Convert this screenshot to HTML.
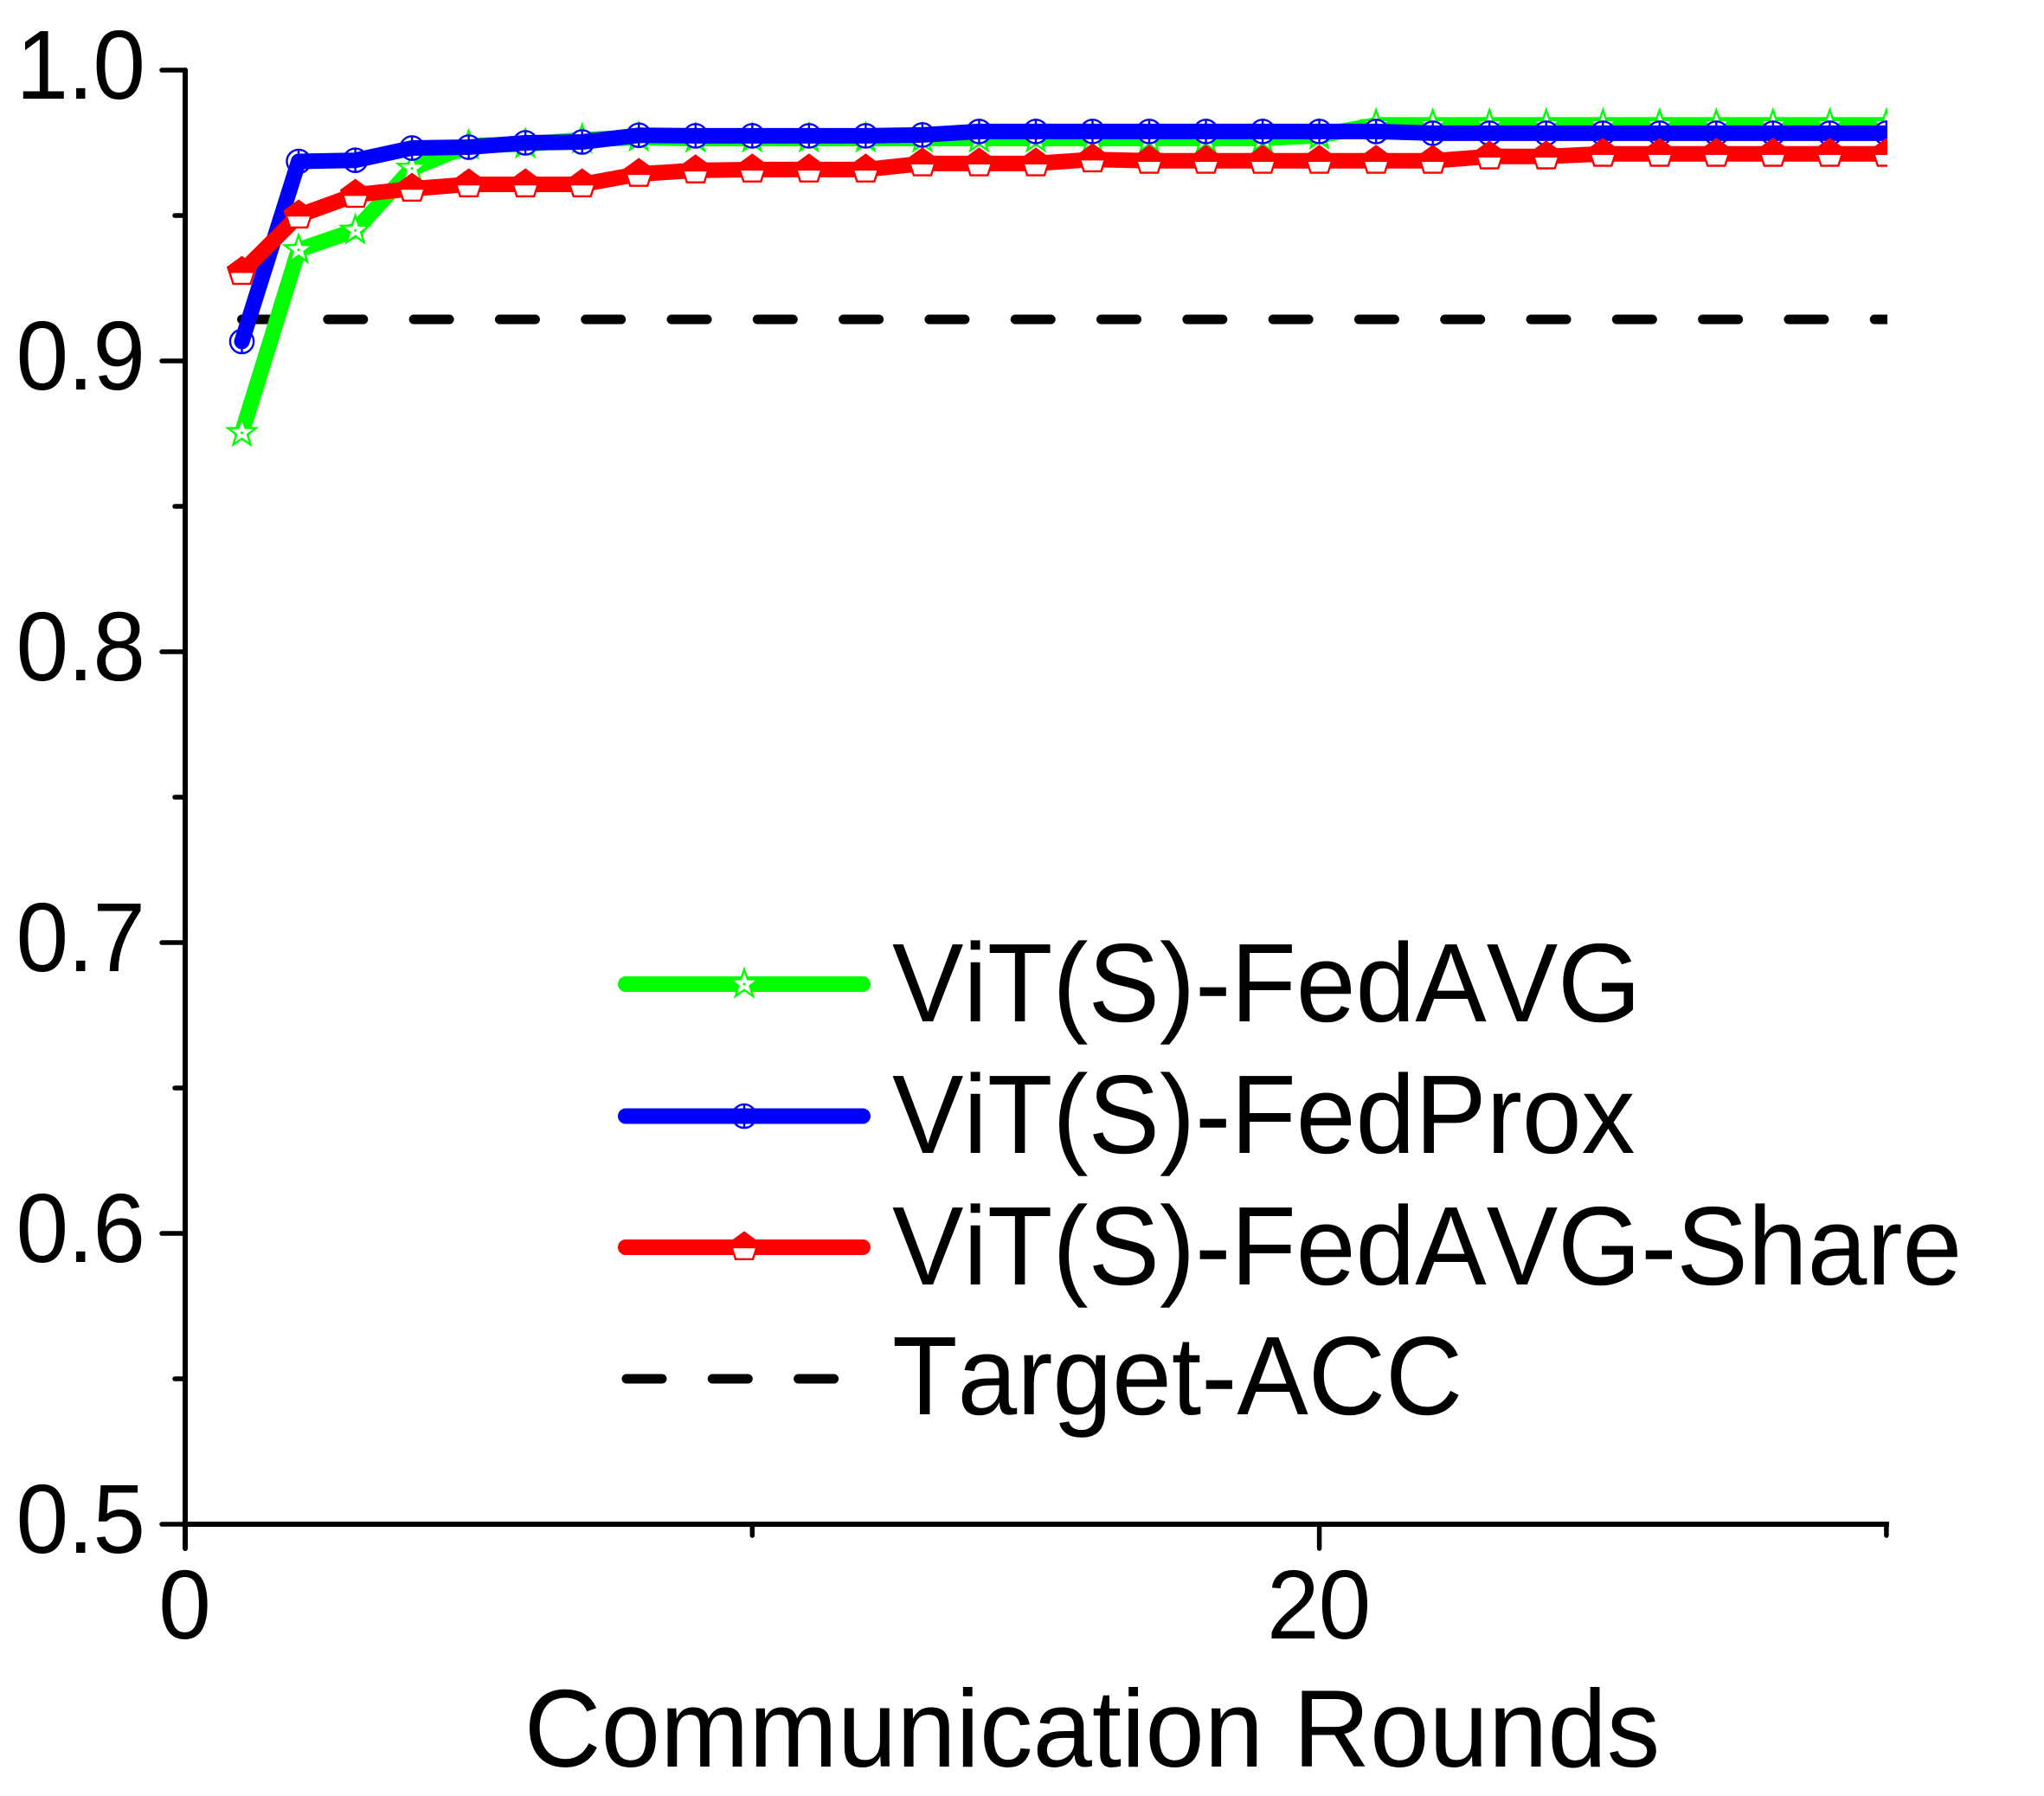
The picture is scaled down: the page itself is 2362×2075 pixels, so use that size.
<!DOCTYPE html>
<html lang="en">
<head>
<meta charset="utf-8">
<title>ViT(S) accuracy vs communication rounds</title>
<style>
html,body{margin:0;padding:0;background:#fff;width:2362px;height:2075px;overflow:hidden}
svg{display:block}
text{font-family:"Liberation Sans",Arial,sans-serif;fill:#000}
#legend text{font-kerning:none}
</style>
</head>
<body>
<svg id="chart" xmlns="http://www.w3.org/2000/svg" width="2362" height="2075" viewBox="0 0 2362 2075">
  <defs><clipPath id="plot-clip"><rect x="150" y="20" width="2031" height="1760"/></clipPath></defs>
  <rect x="0" y="0" width="2362" height="2075" fill="#fff"/>
  <g id="axes"></g>
  <g id="plot" clip-path="url(#plot-clip)"></g>
  <g id="legend"></g>
  <text transform="translate(1262 2041) scale(1 1.035)" font-size="123" text-anchor="middle">Communication Rounds</text>
</svg>
<script>
const rounds = [1,2,3,4,5,6,7,8,9,10,11,12,13,14,15,16,17,18,19,20,21,22,23,24,25,26,27,28,29,30];
const fedAvg = [.8753,.9382,.9449,.9662,.9741,.9745,.9761,.9768,.9765,.9765,.9765,.9765,.9765,.9765,.9765,.9765,.9765,.9765,.9765,.9775,.9812,.9812,.9812,.9812,.9812,.9812,.9812,.9812,.9812,.9812];
const fedProx = [.9067,.9686,.969,.9732,.9735,.975,.9753,.9776,.9774,.9774,.9774,.9774,.9777,.9789,.9789,.9789,.9789,.9789,.9789,.9789,.9789,.9783,.9783,.9783,.9783,.9783,.9783,.9783,.9783,.9783];
const fedAvgShare = [.9306,.95,.9571,.9592,.9607,.9607,.9607,.9643,.9655,.9658,.9658,.9658,.9679,.9679,.9679,.9693,.9688,.9688,.9688,.9688,.9688,.9688,.9703,.9703,.9712,.9712,.9712,.9712,.9712,.9712];
const targetAcc = .9143;
const yMajorTicks = [0.5,0.6,0.7,0.8,0.9,1.0];
const yMinorTicks = [0.55,0.65,0.75,0.85,0.95];
const xMajorTicks = [0,20];
const xMinorTicks = [10,30];
const legendLabels = ["ViT(S)-FedAVG","ViT(S)-FedProx","ViT(S)-FedAVG-Share","Target-ACC"];

const NS = "http://www.w3.org/2000/svg";
const xScale = v => 214 + v * 65.53;
const yScale = v => 81 + (1 - v) * 3360;
const axes = document.getElementById('axes');
const plot = document.getElementById('plot');
const legend = document.getElementById('legend');
const GREEN = '#00ff00', BLUE = '#0000ff', RED = '#ff0000';

function mk(tag, attrs, parent) {
  const el = document.createElementNS(NS, tag);
  for (const k in attrs) el.setAttribute(k, attrs[k]);
  parent.appendChild(el);
  return el;
}
function polyPts(cx, cy, radii, count) {
  const pts = [];
  for (let i = 0; i < count; i++) {
    const a = -Math.PI / 2 + i * 2 * Math.PI / count;
    const r = radii[i % radii.length];
    pts.push((cx + Math.cos(a) * r).toFixed(1) + ',' + (cy + Math.sin(a) * r).toFixed(1));
  }
  return pts.join(' ');
}
function drawStar(cx, cy, parent) {
  const el = mk('polygon', {points: polyPts(cx, cy, [17, 6.8], 10), fill: '#fff', stroke: GREEN, 'stroke-width': 2.4}, parent);
  
  
  const dot = mk('circle', {cx: cx, cy: cy, r: 1.5, fill: GREEN}, parent);
  
  
}
function drawCircle(cx, cy, parent) {
  const el = mk('circle', {cx: cx, cy: cy, r: 13.6, fill: '#fff', stroke: BLUE, 'stroke-width': 2.4}, parent);
  
  
  const cross = mk('line', {x1: cx, x2: cx, y1: cy - 14, y2: cy + 14, stroke: BLUE, 'stroke-width': 2.4}, parent);
  
  
}
function drawPentagon(cx, cy, parent) {
  const el = mk('polygon', {points: polyPts(cx, cy, [17], 5), fill: '#fff', stroke: RED, 'stroke-width': 2.4}, parent);
  
  
  const top = [cx + ',' + (cy - 17), (cx + 16.2) + ',' + (cy - 5.2), (cx + 14.4) + ',' + cy, (cx - 14.4) + ',' + cy, (cx - 16.2) + ',' + (cy - 5.2)].join(' ');
  const cap = mk('polygon', {points: top, fill: RED, stroke: RED, 'stroke-width': 2.4}, parent);
  
  
}
function linePath(values) {
  return values.map((v, i) => (i ? 'L' : 'M') + xScale(rounds[i]).toFixed(1) + ' ' + yScale(v).toFixed(1)).join(' ');
}
function drawLine(values, color, name) {
  const p = mk('path', {d: linePath(values), fill: 'none', stroke: color, 'stroke-width': 18, 'stroke-linejoin': 'round', 'stroke-linecap': 'round'}, plot);
  
  
}

/* axes */
const yAxis = mk('line', {x1: 214, x2: 214, y1: yScale(1), y2: 1789, stroke: '#000', 'stroke-width': 6, 'stroke-linecap': 'round'}, axes);


const xAxis = mk('line', {x1: 214, x2: xScale(30) + 3, y1: yScale(0.5), y2: yScale(0.5), stroke: '#000', 'stroke-width': 6}, axes);


yMajorTicks.forEach(v => {
  const t = mk('line', {x1: 187, x2: 214, y1: yScale(v), y2: yScale(v), stroke: '#000', 'stroke-width': 5.5, 'stroke-linecap': 'round'}, axes);
  
  
  const l = mk('text', {transform: 'translate(167 ' + (yScale(v) + 33) + ') scale(1 1.04)', 'font-size': 109, 'letter-spacing': -1, 'text-anchor': 'end'}, axes);
  l.textContent = v.toFixed(1);
  
  
});
yMinorTicks.forEach(v => {
  const t = mk('line', {x1: 202, x2: 214, y1: yScale(v), y2: yScale(v), stroke: '#000', 'stroke-width': 5.5, 'stroke-linecap': 'round'}, axes);
  
  
});
xMajorTicks.forEach(v => {
  const t = mk('line', {x1: xScale(v), x2: xScale(v), y1: yScale(0.5), y2: 1789, stroke: '#000', 'stroke-width': 5.5, 'stroke-linecap': 'round'}, axes);
  
  
  const l = mk('text', {transform: 'translate(' + (xScale(v) - 1) + ' 1893) scale(1 1.04)', 'font-size': 109, 'letter-spacing': -1, 'text-anchor': 'middle'}, axes);
  l.textContent = String(v);
  
  
});
xMinorTicks.forEach(v => {
  const t = mk('line', {x1: xScale(v), x2: xScale(v), y1: yScale(0.5), y2: 1774, stroke: '#000', 'stroke-width': 5.5, 'stroke-linecap': 'round'}, axes);
  
  
});

/* series, in the original stacking order */
const target = mk('line', {x1: xScale(1), x2: xScale(30), y1: yScale(targetAcc), y2: yScale(targetAcc), stroke: '#000', 'stroke-width': 11, 'stroke-linecap': 'round', 'stroke-dasharray': '41 58.3'}, plot);


drawLine(fedAvg, GREEN, 'fedavg-line');
fedAvg.forEach((v, i) => drawStar(xScale(rounds[i]), yScale(v), plot));
fedProx.forEach((v, i) => drawCircle(xScale(rounds[i]), yScale(v), plot));
drawLine(fedProx, BLUE, 'fedprox-line');
drawLine(fedAvgShare, RED, 'fedavg-share-line');
fedAvgShare.forEach((v, i) => drawPentagon(xScale(rounds[i]), yScale(v), plot));

/* legend */
const legendLineY = [1137, 1289.5, 1441, 1593];
const legendBaseY = [1180, 1332, 1484, 1634];
legendLabels.forEach((label, i) => {
  const t = mk('text', {transform: 'translate(1031 ' + legendBaseY[i] + ') scale(1 1.045)', 'font-size': 123.6}, legend);
  t.textContent = label;
  
  
});
const legendSeries = [[GREEN, drawStar], [BLUE, drawCircle], [RED, drawPentagon]];
legendSeries.forEach((entry, i) => {
  const y = legendLineY[i];
  if (entry[1] === drawCircle) entry[1](860, y, legend);
  const l = mk('line', {x1: 723, x2: 997, y1: y, y2: y, stroke: entry[0], 'stroke-width': 18, 'stroke-linecap': 'round'}, legend);
  
  
  if (entry[1] !== drawCircle) entry[1](860, y, legend);
});
const legendDash = mk('line', {x1: 724, x2: 965, y1: legendLineY[3], y2: legendLineY[3], stroke: '#000', 'stroke-width': 11, 'stroke-linecap': 'round', 'stroke-dasharray': '41 58.3'}, legend);


</script>
</body>
</html>
